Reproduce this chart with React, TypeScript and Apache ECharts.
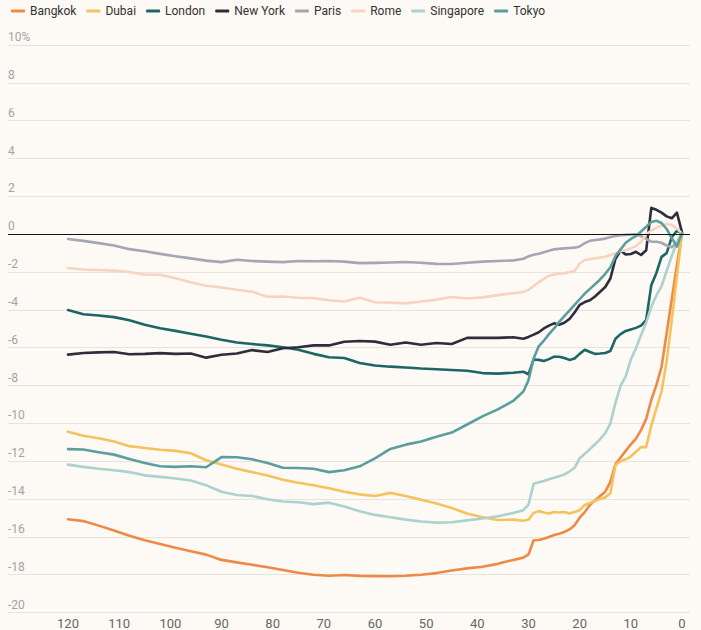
import React, { useEffect, useRef } from "react";
import * as echarts from "echarts";

// Days before (x axis runs from 120 down to 0)
const days = [
  120, 117, 114, 111, 108, 105, 102, 99, 96, 93, 90, 87, 84, 81, 78, 75, 72, 69, 66, 63, 60, 57, 54, 51, 48, 45, 42, 39, 36, 33,
  31, 30, 29, 28, 27, 26, 25, 24, 23, 22, 21, 20, 19, 18, 17, 16, 15, 14, 13, 12, 11, 10, 9, 8, 7, 6, 5, 4, 3, 2, 1, 0,
];

const bangkok = [
  -15.18, -15.28, -15.52, -15.78, -16.06, -16.3, -16.5, -16.7, -16.88, -17.06, -17.34, -17.47, -17.6, -17.73, -17.88, -18.02, -18.13, -18.18, -18.14, -18.19, -18.2, -18.21, -18.18, -18.13, -18.04, -17.9, -17.79, -17.7, -17.55, -17.34,
  -17.22, -17.05, -16.3, -16.28, -16.22, -16.12, -16.02, -15.95, -15.86, -15.72, -15.5, -15.1, -14.8, -14.42, -14.18, -13.95, -13.72, -13.2, -12.25, -11.9, -11.55, -11.2, -10.9, -10.45, -9.85, -8.85, -8.05, -7.1, -5.3, -3.5, -1.7, 0,
];
const dubai = [
  -10.53, -10.75, -10.88, -11.05, -11.3, -11.4, -11.49, -11.55, -11.68, -12.05, -12.28, -12.5, -12.68, -12.86, -13.08, -13.24, -13.38, -13.54, -13.72, -13.86, -13.95, -13.78, -13.95, -14.14, -14.35, -14.58, -14.88, -15.08, -15.22, -15.2,
  -15.26, -15.2, -14.85, -14.75, -14.82, -14.88, -14.8, -14.82, -14.8, -14.88, -14.8, -14.7, -14.42, -14.32, -14.2, -14.09, -14.02, -13.8, -12.3, -12.1, -12.0, -11.85, -11.6, -11.35, -11.35, -10.2, -9.3, -8.4, -6.8, -4.6, -2.3, 0,
];
const london = [
  -4.07, -4.3, -4.36, -4.45, -4.62, -4.85, -5.04, -5.18, -5.33, -5.48, -5.65, -5.8, -5.88, -5.95, -6.05, -6.18, -6.4, -6.58, -6.62, -6.88, -7.02, -7.08, -7.12, -7.18, -7.22, -7.26, -7.3, -7.42, -7.45, -7.4,
  -7.35, -7.48, -6.7, -6.72, -6.78, -6.68, -6.55, -6.55, -6.62, -6.72, -6.65, -6.4, -6.18, -6.3, -6.4, -6.38, -6.35, -6.25, -5.6, -5.35, -5.18, -5.1, -5.02, -4.9, -4.6, -2.75, -2.1, -1.25, -1.05, -0.2, 0.14, 0,
];
const newYork = [
  -6.44, -6.35, -6.32, -6.3, -6.42, -6.4, -6.36, -6.4, -6.38, -6.6, -6.45, -6.38, -6.2, -6.3, -6.1, -6.05, -5.95, -5.95, -5.76, -5.72, -5.75, -5.92, -5.8, -5.92, -5.82, -5.88, -5.55, -5.55, -5.55, -5.52,
  -5.6, -5.5, -5.38, -5.25, -5.05, -4.9, -4.78, -4.85, -4.75, -4.55, -4.2, -3.8, -3.65, -3.55, -3.35, -3.1, -2.85, -2.4, -1.35, -0.92, -1.12, -1.1, -0.98, -1.15, -0.9, 1.35, 1.25, 1.1, 0.9, 0.8, 1.1, 0.05,
];
const paris = [
  -0.3, -0.4, -0.52, -0.65, -0.84, -0.95, -1.09, -1.22, -1.33, -1.45, -1.53, -1.4, -1.47, -1.5, -1.53, -1.47, -1.48, -1.47, -1.5, -1.58, -1.57, -1.55, -1.52, -1.56, -1.62, -1.63, -1.56, -1.5, -1.47, -1.44,
  -1.35, -1.22, -1.14, -1.08, -1.0, -0.92, -0.85, -0.82, -0.8, -0.78, -0.76, -0.7, -0.52, -0.4, -0.35, -0.32, -0.28, -0.2, -0.14, -0.1, -0.08, -0.06, -0.05, -0.15, -0.3, -0.44, -0.45, -0.5, -0.65, -0.74, -0.5, 0,
];
const rome = [
  -1.84, -1.92, -1.95, -1.98, -2.05, -2.2, -2.2, -2.38, -2.6, -2.78, -2.88, -3.0, -3.1, -3.37, -3.35, -3.42, -3.44, -3.55, -3.62, -3.42, -3.66, -3.68, -3.72, -3.62, -3.52, -3.38, -3.46, -3.4, -3.28, -3.18,
  -3.11, -3.0, -2.8, -2.6, -2.42, -2.25, -2.18, -2.14, -2.12, -2.06, -2.0, -1.6, -1.42, -1.38, -1.32, -1.28, -1.24, -1.15, -1.05, -0.95, -0.88, -0.8, -0.68, -0.45, -0.05, 0.15, 0.3, 0.4, 0.5, 0.45, 0.25, 0,
];
const singapore = [
  -12.28, -12.4, -12.5, -12.58, -12.68, -12.85, -12.93, -13.02, -13.12, -13.38, -13.72, -13.89, -13.95, -14.12, -14.24, -14.28, -14.38, -14.3, -14.5, -14.76, -14.95, -15.08, -15.2, -15.3, -15.36, -15.34, -15.24, -15.14, -15.02, -14.85,
  -14.7, -14.4, -13.3, -13.22, -13.15, -13.06, -12.98, -12.9, -12.8, -12.65, -12.45, -11.95, -11.7, -11.46, -11.2, -10.93, -10.6, -10.1, -9.0, -8.1, -7.6, -6.7, -6.1, -5.4, -4.75, -3.9, -3.3, -2.8, -2.0, -1.2, -0.47, 0,
];
const tokyo = [
  -11.46, -11.48, -11.62, -11.75, -11.98, -12.2, -12.37, -12.4, -12.37, -12.42, -11.88, -11.89, -12.0, -12.2, -12.45, -12.46, -12.5, -12.68, -12.58, -12.37, -11.95, -11.45, -11.22, -11.05, -10.8, -10.58, -10.15, -9.72, -9.35, -8.9,
  -8.4, -7.8, -6.65, -6.0, -5.7, -5.35, -5.05, -4.7, -4.4, -4.1, -3.8, -3.5, -3.2, -2.95, -2.7, -2.45, -2.15, -1.8, -1.2, -0.85, -0.5, -0.3, -0.15, 0.1, 0.35, 0.6, 0.67, 0.55, 0.23, -0.25, -0.7, 0,
];

const cities = ["Bangkok", "Dubai", "London", "New York", "Paris", "Rome", "Singapore", "Tokyo"];
const cityValues = [bangkok, dubai, london, newYork, paris, rome, singapore, tokyo];
const cityColors = ["#ef8a46", "#f5c35e", "#1c6663", "#2e2d3c", "#a3a6b4", "#f7d4c1", "#acd1cf", "#5b9e9e"];

const xTicks = [0, 10, 20, 30, 40, 50, 60, 70, 80, 90, 100, 110, 120];

const FONT = "Roboto, 'Noto Sans', sans-serif";

export default function App() {
  const ref = useRef<HTMLDivElement>(null);

  useEffect(() => {
    if (!ref.current) return;
    const chart = echarts.init(ref.current, null, { renderer: "svg" });

    const lineSeries = cities.map((name, k) => ({
      name,
      type: "line",
      xAxisIndex: 1,
      yAxisIndex: 1,
      data: days.map((d, i) => [d, cityValues[k][i]]),
      showSymbol: false,
      symbol: "none",
      smooth: false,
      lineStyle: { color: cityColors[k], width: 2.6, join: "round", cap: "round" },
      itemStyle: { color: cityColors[k] },
      emphasis: { disabled: true },
      z: 3,
    }));

    chart.setOption({
      animation: false,
      backgroundColor: "transparent",
      textStyle: { fontFamily: FONT },
      legend: {
        left: 6,
        top: 0,
        itemWidth: 14,
        itemHeight: 3,
        itemGap: 10,
        icon: "roundRect",
        data: cities,
        textStyle: { fontSize: 12, color: "#333", fontFamily: FONT },
      },
      grid: [
        { left: 8, right: 11, top: 45, bottom: 17.5 },
        { left: 68, right: 19, top: 45, bottom: 17.5 },
      ],
      xAxis: [
        {
          gridIndex: 0,
          type: "value",
          min: 0,
          max: 1,
          show: false,
        },
        {
          gridIndex: 1,
          type: "value",
          inverse: true,
          min: 0,
          max: 120,
          interval: 10,
          axisLine: { show: false },
          axisTick: { show: false },
          splitLine: { show: false },
          axisLabel: {
            margin: 7,
            fontSize: 13,
            color: "#666",
            fontFamily: FONT,
            customValues: xTicks,
          },
        },
      ],
      yAxis: [
        {
          gridIndex: 0,
          type: "value",
          min: -20,
          max: 10,
          interval: 2,
          axisLine: { show: false },
          axisTick: { show: false },
          splitLine: { show: true, lineStyle: { color: "#e7e4df", width: 1 } },
          axisLabel: {
            inside: true,
            margin: 0,
            fontSize: 12,
            color: "#a3a3a3",
            fontFamily: FONT,
            verticalAlign: "bottom",
            padding: [0, 0, 2, 0],
            formatter: (v: number) => (v === 10 ? "10%" : String(v)),
          },
        },
        {
          gridIndex: 1,
          type: "value",
          min: -20,
          max: 10,
          interval: 2,
          show: false,
        },
      ],
      series: [
        {
          type: "line",
          xAxisIndex: 0,
          yAxisIndex: 0,
          data: [],
          silent: true,
          z: 2,
          markLine: {
            silent: true,
            symbol: "none",
            label: { show: false },
            lineStyle: { color: "#111", width: 1, type: "solid" },
            data: [{ yAxis: 0 }],
          },
        },
        ...lineSeries,
      ],
    });

    return () => chart.dispose();
  }, []);

  return (
    <div
      style={{
        position: "fixed",
        left: 0,
        top: 0,
        width: 701,
        height: 630,
        background: "#fdf9f4",
      }}
    >
      <div ref={ref} style={{ width: 701, height: 630 }} />
    </div>
  );
}
